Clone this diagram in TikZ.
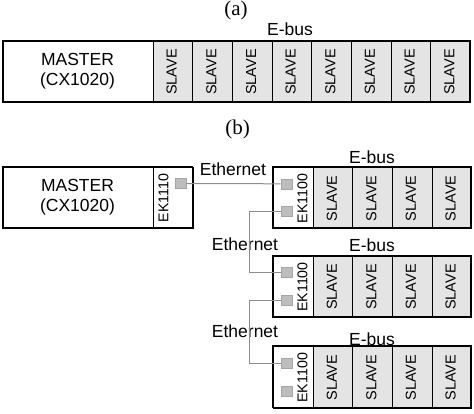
\documentclass[tikz,border=0pt]{standalone}
\usepackage{fontspec}
\setmainfont{Liberation Sans}
\newfontfamily\capserif{Liberation Serif}
\definecolor{slavegray}{HTML}{E4E4E4}
\definecolor{portfill}{HTML}{BDBDBD}
\definecolor{portdraw}{HTML}{A5A5A5}
\definecolor{ethline}{HTML}{8C8C8C}
\begin{document}
\begin{tikzpicture}[x=1pt,y=-1pt,
  cell/.style={draw=black, line width=0.9pt, anchor=north west, inner sep=0pt, minimum height=61.2pt},
  mastercell/.style={cell, fill=white, minimum width=149.7pt},
  ekcell/.style={cell, fill=white, minimum width=39.8pt},
  slavecell/.style={cell, fill=slavegray, minimum width=39.6pt},
  outer/.style={draw=black, line width=1.7pt},
  port/.style={draw=portdraw, fill=portfill, line width=0.6pt, minimum width=11pt, minimum height=10pt, inner sep=0pt},
  eth/.style={draw=ethline, line width=1pt},
  lbl/.style={font=\fontsize{17.5}{19.5}\selectfont, inner sep=0pt},
  captxt/.style={font=\capserif\fontsize{21}{23}\selectfont, inner sep=0pt},
  vtxt/.style={font=\fontsize{14.5}{16}\selectfont, inner sep=0pt},
  ektxt/.style={font=\fontsize{14.2}{16}\selectfont, inner sep=0pt},
  mtxt/.style={font=\fontsize{17.5}{19.5}\selectfont, align=center, inner sep=0pt}
]
\useasboundingbox (0,0) rectangle (474,413);
% ---------- (a) ----------
\node[captxt] (capa) at (236,10.5) {(a)};
\node[lbl] (ebusa) at (290,29.5) {E-bus};
\node[mastercell, minimum height=61pt] (ma) at (3,40.7) {};
\node[mtxt] (mat) at (77.5,71.2) {MASTER\\(CX1020)};
\foreach \i in {0,...,7}{
  \node[slavecell, minimum height=61pt] (as\i) at ({152.7+\i*39.66},40.7) {};
  \node[vtxt] (ast\i) at ({152.7+\i*39.66+19},72) {\rotatebox{90}{SLAVE}};
}
\draw[outer] (3,40.7) rectangle (470.2,101.7);
% ---------- (b) ----------
\node[captxt] (capb) at (237.5,129) {(b)};
\node[mastercell] (mb) at (3,166.8) {};
\node[mtxt] (mbt) at (77.5,197.4) {MASTER\\(CX1020)};
\node[ekcell] (ek0) at (152.7,166.8) {};
\node[ektxt] (ekt0) at (163.5,198) {\rotatebox{90}{EK1110}};
\node[port] (p0) at (180.5,183.5) {};
\draw[outer] (3,166.8) rectangle (192.5,228);
\foreach \g/\t in {1/166.8, 2/255.5, 3/346.3}{
  \node[ekcell] (ek\g) at (273,\t) {};
  \node[ektxt] (ekt\g) at (302.5,\t+31.5) {\rotatebox{90}{EK1100}};
  \foreach \j in {0,...,3}{
    \node[slavecell] (s\g\j) at ({312.8+\j*39.6},\t) {};
    \node[vtxt] (st\g\j) at ({312.8+\j*39.6+19},\t+31.5) {\rotatebox{90}{SLAVE}};
  }
  \node[port] (p\g1) at (286.5,\t+17) {};
  \node[port] (p\g2) at (286.5,\t+44.5) {};
  \draw[outer] (273,\t) rectangle (471,\t+61.2);
}
\node[lbl] (eb1) at (372,157) {E-bus};
\node[lbl] (eb2) at (372,245.5) {E-bus};
\node[lbl] (eb3) at (372,339) {E-bus};
\node[lbl] (et1) at (233,169) {Ethernet};
\node[lbl] (et2) at (245,244) {Ethernet};
\node[lbl] (et3) at (245,331) {Ethernet};
\draw[eth] (p0.east) -- (p11.west);
\draw[eth] (p12.west) -- ++(-31.5,0) |- (p21.west);
\draw[eth] (p22.west) -- ++(-31.5,0) |- (p31.west);
\end{tikzpicture}
\end{document}
